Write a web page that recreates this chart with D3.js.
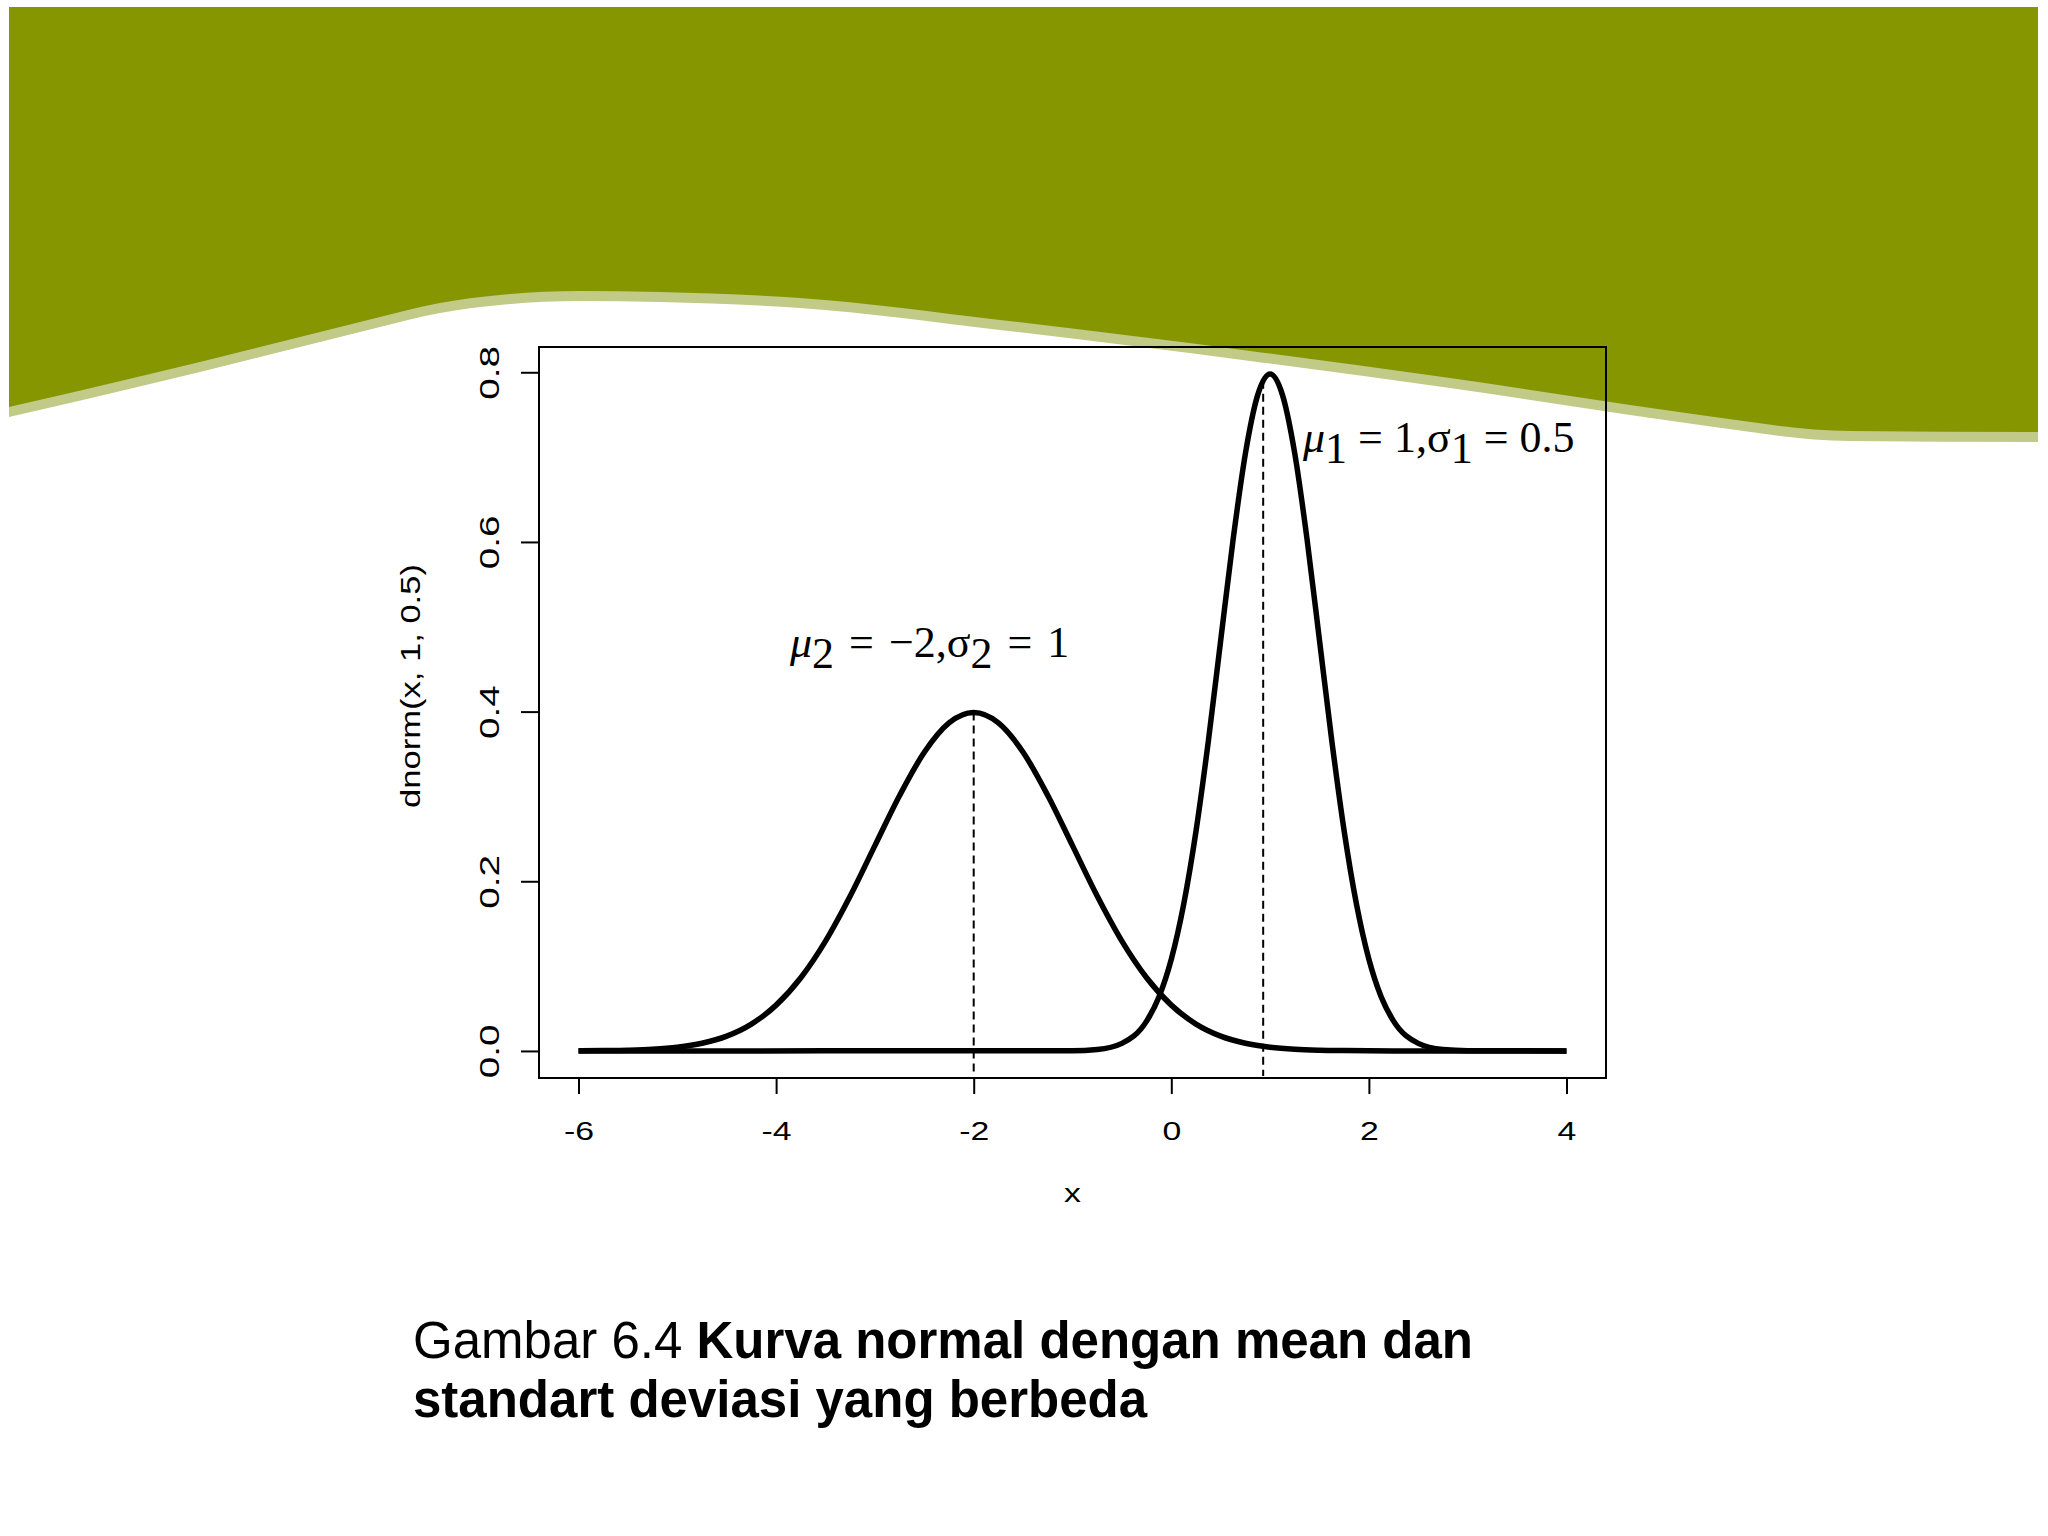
<!DOCTYPE html>
<html>
<head>
<meta charset="utf-8">
<script src="https://cdn.jsdelivr.net/npm/d3@7"></script>
<style>
  html, body { margin: 0; padding: 0; background: #ffffff; }
  svg { display: block; }
  .sans { font-family: "Liberation Sans", Arial, Helvetica, sans-serif; }
  .serif { font-family: "Liberation Serif", "Times New Roman", serif; }
</style>
</head>
<body>
<script>
// ---------- data ----------
const xTicks = [-6, -4, -2, 0, 2, 4];
const yTicks = [0.0, 0.2, 0.4, 0.6, 0.8];
const yTickLabels = ["0.0", "0.2", "0.4", "0.6", "0.8"];

// curve mu = -2, sigma = 1
const curve2X = [-6, -5.75, -5.5, -5.25, -5, -4.75, -4.5, -4.25, -4, -3.75, -3.5, -3.25, -3, -2.75, -2.5, -2.25, -2,
  -1.75, -1.5, -1.25, -1, -0.75, -0.5, -0.25, 0, 0.25, 0.5, 0.75, 1, 1.25, 1.5, 1.75, 2, 2.25, 2.5, 2.75, 3, 3.25, 3.5, 3.75, 4];
const curve2Y = [0.0001, 0.0004, 0.0009, 0.0020, 0.0044, 0.0091, 0.0175, 0.0317, 0.0540, 0.0863, 0.1295, 0.1826, 0.2420, 0.3011, 0.3521, 0.3867, 0.3989,
  0.3867, 0.3521, 0.3011, 0.2420, 0.1826, 0.1295, 0.0863, 0.0540, 0.0317, 0.0175, 0.0091, 0.0044, 0.0020, 0.0009, 0.0004, 0.0001, 0, 0, 0, 0, 0, 0, 0, 0];

// curve mu = 1, sigma = 0.5
const curve1X = [-6, -1, -0.75, -0.5, -0.25, -0.125, 0, 0.125, 0.25, 0.375, 0.5, 0.625, 0.75, 0.875, 1,
  1.125, 1.25, 1.375, 1.5, 1.625, 1.75, 1.875, 2, 2.125, 2.25, 2.5, 2.75, 3, 4];
const curve1Y = [0, 0.0003, 0.0017, 0.0089, 0.0351, 0.0635, 0.1080, 0.1726, 0.2590, 0.3653, 0.4839, 0.6023, 0.7041, 0.7733, 0.7979,
  0.7733, 0.7041, 0.6023, 0.4839, 0.3653, 0.2590, 0.1726, 0.1080, 0.0635, 0.0351, 0.0089, 0.0017, 0.0003, 0];

// dashed mean markers
const meanX = [-2, 0.93];
const meanTop = [0.399, 0.79];

const xLabel = "x";
const yLabel = "dnorm(x, 1, 0.5)";
const captionNormal = "Gambar 6.4 ";
const captionBold1 = "Kurva normal dengan mean dan";
const captionBold2 = "standart deviasi yang berbeda";

// ---------- page ----------
const W = 2048, H = 1536;
const svg = d3.select("body").append("svg").attr("width", W).attr("height", H);
svg.append("rect").attr("width", W).attr("height", H).attr("fill", "#ffffff");

// decorative banner
const bannerEdge = [[9, 407], [150, 374], [300, 337], [380, 317], [440, 303], [500, 295], [580, 291], [660, 292],
  [800, 298], [1000, 320], [1250, 351], [1450, 378], [1630, 405], [1700, 415], [1850, 431], [2038, 432]];
const edgeLine = d3.line().curve(d3.curveMonotoneX);
function bannerPath(off) {
  const pts = bannerEdge.map(p => [p[0], p[1] + off]);
  const e = edgeLine(pts.slice().reverse());
  return `M9,7 L2038,7 L2038,${pts[pts.length - 1][1]} ` + e.replace(/^M/, "L") + " Z";
}
svg.append("path").attr("d", bannerPath(10)).attr("fill", "#c2ca88");
svg.append("path").attr("d", bannerPath(0)).attr("fill", "#859600");

// ---------- chart ----------
const x = d3.scaleLinear().domain([-6.4, 4.4]).range([539, 1606]);
const y = d3.scaleLinear().domain([-0.0319, 0.8298]).range([1078, 347]);

const g = svg.append("g");

// box
g.append("rect")
  .attr("x", x(-6.4)).attr("y", y(0.8298))
  .attr("width", x(4.4) - x(-6.4)).attr("height", y(-0.0319) - y(0.8298))
  .attr("fill", "none").attr("stroke", "#000").attr("stroke-width", 2);

// x axis
const xAxis = g.append("g").attr("transform", `translate(0,${y(-0.0319)})`)
  .call(d3.axisBottom(x).tickValues(xTicks).tickSize(16).tickFormat(d3.format("d")));
xAxis.select(".domain").attr("d", `M${x(-6)},0H${x(4)}`).attr("stroke-width", 2);
xAxis.selectAll(".tick line").attr("stroke-width", 2);
xAxis.selectAll(".tick text")
  .attr("class", "sans").attr("y", null).attr("dy", null)
  .attr("font-size", 26).attr("fill", "#000")
  .attr("transform", "translate(0,62) scale(1.3,1)")
  .text(d => d < 0 ? "-" + Math.abs(d) : String(d));

// y axis
const yAxis = g.append("g").attr("transform", `translate(${x(-6.4)},0)`)
  .call(d3.axisLeft(y).tickValues(yTicks).tickSize(18).tickFormat((d, i) => yTickLabels[i]));
yAxis.select(".domain").attr("d", `M0,${y(0)}V${y(0.8)}`).attr("stroke-width", 2);
yAxis.selectAll(".tick line").attr("stroke-width", 2);
yAxis.selectAll(".tick text")
  .attr("class", "sans").attr("x", null).attr("dy", null)
  .attr("font-size", 28).attr("fill", "#000")
  .attr("text-anchor", "middle")
  .attr("transform", "translate(-40,0) rotate(-90) scale(1.38,1)");

// axis titles
g.append("text").attr("class", "sans")
  .attr("transform", `translate(${(x(-6.4) + x(4.4)) / 2},1202) scale(1.3,1)`)
  .attr("text-anchor", "middle").attr("font-size", 26).text(xLabel);

g.append("text").attr("class", "sans")
  .attr("transform", `translate(420,686) rotate(-90) scale(1.28,1)`)
  .attr("text-anchor", "middle").attr("font-size", 27).text(yLabel);

// dashed mean lines
meanX.forEach((mx, i) => {
  g.append("line")
    .attr("x1", x(mx)).attr("x2", x(mx))
    .attr("y1", y(meanTop[i])).attr("y2", y(-0.0319) - 2)
    .attr("stroke", "#000").attr("stroke-width", 2)
    .attr("stroke-dasharray", "8,5");
});

// curves
const line = d3.line().x(d => x(d[0])).y(d => y(d[1])).curve(d3.curveMonotoneX);
g.append("path").datum(curve2X.map((v, i) => [v, curve2Y[i]]))
  .attr("d", line).attr("fill", "none").attr("stroke", "#000")
  .attr("stroke-width", 5.5).attr("stroke-linejoin", "round");
g.append("path").datum(curve1X.map((v, i) => [v, curve1Y[i]]))
  .attr("d", line).attr("fill", "none").attr("stroke", "#000")
  .attr("stroke-width", 5.5).attr("stroke-linejoin", "round");

// annotations
function annot(xp, yp, greek1, sub1, val1, greek2, sub2, val2, gap) {
  const t = g.append("text").attr("class", "serif").attr("x", xp).attr("y", yp)
    .attr("font-size", 44).attr("fill", "#000").attr("xml:space", "preserve");
  t.append("tspan").attr("font-style", "italic").text(greek1);
  t.append("tspan").attr("dy", 11).text(sub1);
  t.append("tspan").attr("dy", -11).attr("dx", gap).text(" =");
  t.append("tspan").attr("dx", gap).text(" " + val1 + ",");
  t.append("tspan").text(greek2);
  t.append("tspan").attr("dy", 11).text(sub2);
  t.append("tspan").attr("dy", -11).attr("dx", gap).text(" =");
  t.append("tspan").attr("dx", gap).text(" " + val2);
}
annot(1303, 452, "μ", "1", "1", "σ", "1", "0.5", 0);
annot(790, 657, "μ", "2", "−2", "σ", "2", "1", 4);

// caption
const cap = svg.append("text").attr("class", "sans").attr("x", 413).attr("y", 1358)
  .attr("font-size", 51).attr("fill", "#000");
cap.append("tspan").text(captionNormal);
cap.append("tspan").attr("font-weight", "bold").text(captionBold1);
svg.append("text").attr("class", "sans").attr("x", 413).attr("y", 1417)
  .attr("font-size", 51).attr("font-weight", "bold").attr("fill", "#000").text(captionBold2);
</script>
</body>
</html>
